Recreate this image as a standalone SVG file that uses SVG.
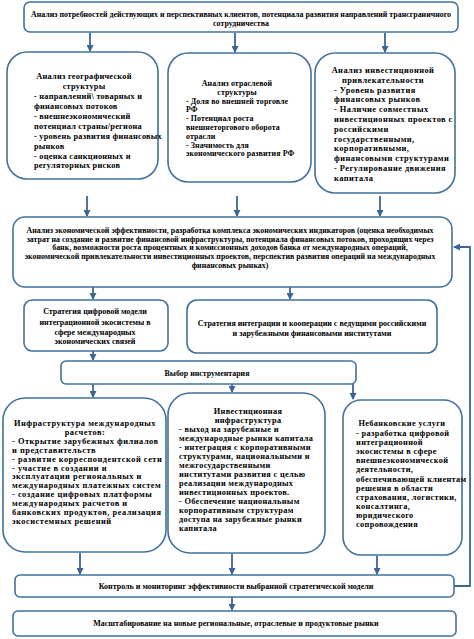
<svg xmlns="http://www.w3.org/2000/svg" width="474" height="639" viewBox="0 0 474 639">
<defs>
<style>
.box{fill:#fff;stroke:#41719c;stroke-width:1.6}
.t{font-family:"Liberation Serif","Times New Roman",serif;font-weight:bold;font-size:7.9px;fill:#000}
.c{text-anchor:middle}
.f80{font-size:8px}
.geo{font-size:8.3px;letter-spacing:0.25px}
.sec{font-size:7.9px;letter-spacing:0.1px}
.inv{font-size:8.4px;letter-spacing:0.45px}
.set{font-size:8.4px;letter-spacing:0.5px}
.inf{font-size:8.3px;letter-spacing:0.32px}
.nb{font-size:8.3px;letter-spacing:0.35px}
.con{fill:none;stroke:#3b6694;stroke-width:1.8}
</style>
<marker id="ah" markerUnits="userSpaceOnUse" markerWidth="7" markerHeight="7" refX="6" refY="3.5" orient="auto">
<path d="M0,0 L7,3.5 L0,7 Z" fill="#3b6694"/>
</marker>
</defs>
<rect width="474" height="639" fill="#fff"/>

<g id="connectors">
<line class="con" x1="90" y1="33" x2="90" y2="51" marker-end="url(#ah)"/>
<line class="con" x1="235" y1="33" x2="235" y2="52" marker-end="url(#ah)"/>
<line class="con" x1="385" y1="33" x2="385" y2="52" marker-end="url(#ah)"/>
<line class="con" x1="87" y1="196" x2="87" y2="216" marker-end="url(#ah)"/>
<line class="con" x1="237" y1="196" x2="237" y2="216" marker-end="url(#ah)"/>
<line class="con" x1="380" y1="196" x2="380" y2="216" marker-end="url(#ah)"/>
<line class="con" x1="93" y1="287" x2="93" y2="299" marker-end="url(#ah)"/>
<line class="con" x1="290" y1="287" x2="290" y2="299" marker-end="url(#ah)"/>
<line class="con" x1="93" y1="351" x2="93" y2="360" marker-end="url(#ah)"/>
<line class="con" x1="93" y1="384" x2="93" y2="397" marker-end="url(#ah)"/>
<line class="con" x1="232" y1="384" x2="232" y2="392" marker-end="url(#ah)"/>
<line class="con" x1="353" y1="384" x2="353" y2="399" marker-end="url(#ah)"/>
<line class="con" x1="80" y1="553" x2="80" y2="574" marker-end="url(#ah)"/>
<line class="con" x1="232" y1="554" x2="232" y2="574" marker-end="url(#ah)"/>
<line class="con" x1="377" y1="556" x2="377" y2="574" marker-end="url(#ah)"/>
<line class="con" x1="232" y1="597" x2="232" y2="610" marker-end="url(#ah)"/>
<polyline class="con" points="454,586 470,586 470,247 454,247" marker-end="url(#ah)"/>
</g>

<g id="n_top">
<rect class="box" x="24" y="2" width="434" height="30" rx="6"/>
<text class="t c" x="241" y="17">Анализ потребностей действующих и перспективных клиентов, потенциала развития направлений трансграничного</text>
<text class="t c" x="241" y="26">сотрудничества</text>
</g>

<g id="n_geo">
<rect class="box" x="7" y="52" width="151" height="127" rx="20"/>
<text class="t geo c" x="84" y="79">Анализ географической</text>
<text class="t geo c" x="84" y="89">структуры</text>
<text class="t geo" x="34" y="99">- направлений\ товарных и</text>
<text class="t geo" x="34" y="109">финансовых потоков</text>
<text class="t geo" x="34" y="119">- внешнеэкономический</text>
<text class="t geo" x="34" y="129">потенциал   страны/региона</text>
<text class="t geo" x="34" y="139">- уровень развития финансовых</text>
<text class="t geo" x="34" y="149">рынков</text>
<text class="t geo" x="34" y="159">- оценка санкционных и</text>
<text class="t geo" x="34" y="168">регуляторных рисков</text>
</g>

<g id="n_sector">
<rect class="box" x="168" y="53" width="143" height="129" rx="20"/>
<text class="t sec c" x="237" y="86">Анализ отраслевой</text>
<text class="t sec c" x="237" y="95">структуры</text>
<text class="t sec" x="186" y="103.6">- Доля во внешней торговле</text>
<text class="t sec" x="186" y="112.4">РФ</text>
<text class="t sec" x="186" y="121.2">- Потенциал роста</text>
<text class="t sec" x="186" y="130">внешнеторгового оборота</text>
<text class="t sec" x="186" y="138.8">отрасли</text>
<text class="t sec" x="186" y="147.6">- Значимость для</text>
<text class="t sec" x="186" y="156.4">экономического развития РФ</text>
</g>

<g id="n_invest">
<rect class="box" x="315" y="53" width="140" height="140" rx="20"/>
<text class="t inv c" x="383" y="73">Анализ инвестиционной</text>
<text class="t inv c" x="383" y="82.8">привлекательности</text>
<text class="t inv" x="334" y="92.6">- Уровень развития</text>
<text class="t inv" x="334" y="102.4">финансовых рынков</text>
<text class="t inv" x="334" y="112.2">- Наличие совместных</text>
<text class="t inv" x="334" y="122">инвестиционных проектов с</text>
<text class="t inv" x="334" y="131.8">российскими</text>
<text class="t inv" x="334" y="141.6">государственными,</text>
<text class="t inv" x="334" y="151.4">корпоративными,</text>
<text class="t inv" x="334" y="161.2">финансовыми структурами</text>
<text class="t inv" x="334" y="171">- Регулирование движения</text>
<text class="t inv" x="334" y="180.8">капитала</text>
</g>

<g id="n_econ">
<rect class="box" x="13" y="217" width="439" height="70" rx="12"/>
<text class="t c" x="230" y="233">Анализ экономической эффективности, разработка комплекса экономических индикаторов (оценка необходимых</text>
<text class="t c" x="230" y="241.7">затрат на создание и развитие финансовой инфраструктуры, потенциала финансовых потоков, проходящих через</text>
<text class="t c" x="230" y="250.4">банк, возможности роста процентных и комиссионных доходов банка от международных операций,</text>
<text class="t c" x="230" y="259.1">экономической привлекательности инвестиционных проектов, перспектив развития операций на международных</text>
<text class="t c" x="230" y="267.8">финансовых рынках)</text>
</g>

<g id="n_strat1">
<rect class="box" x="24" y="300" width="144" height="51" rx="8"/>
<text class="t f80 c" x="95" y="314">Стратегия цифровой модели</text>
<text class="t f80 c" x="95" y="324.5">интеграционной экосистемы в</text>
<text class="t f80 c" x="95" y="334.5">сфере международных</text>
<text class="t f80 c" x="95" y="344">экономических связей</text>
</g>

<g id="n_strat2">
<rect class="box" x="187" y="300" width="250" height="53" rx="10"/>
<text class="t f80 c" x="312" y="326">Стратегия интеграции и кооперации с ведущими российскими</text>
<text class="t f80 c" x="312" y="336">и зарубежными финансовыми институтами</text>
</g>

<g id="n_choice">
<rect class="box" x="61" y="361" width="295" height="23" rx="5"/>
<text class="t c" x="207" y="376">Выбор инструментария</text>
</g>

<g id="n_settle">
<rect class="box" x="3" y="398" width="163" height="154" rx="22"/>
<text class="t set c" x="85" y="426">Инфраструктура международных</text>
<text class="t set c" x="85" y="434.9">расчетов:</text>
<text class="t set" x="12" y="443.8">- Открытие зарубежных филиалов</text>
<text class="t set" x="12" y="452.7">и представительств</text>
<text class="t set" x="12" y="461.6">- развитие корреспондентской сети</text>
<text class="t set" x="12" y="470.5">- участие в создании и</text>
<text class="t set" x="12" y="479.4">эксплуатации региональных и</text>
<text class="t set" x="12" y="488.3">международных платежных систем</text>
<text class="t set" x="12" y="497.2">- создание цифровых платформы</text>
<text class="t set" x="12" y="506.1">международных расчетов и</text>
<text class="t set" x="12" y="515">банковских продуктов, реализация</text>
<text class="t set" x="12" y="523.9">экосистемных решений</text>
</g>

<g id="n_investinfra">
<rect class="box" x="168" y="393" width="157" height="160" rx="22"/>
<text class="t inf c" x="248" y="414">Инвестиционная</text>
<text class="t inf c" x="248" y="423">инфраструктура</text>
<text class="t inf" x="179" y="432">- выход на зарубежные и</text>
<text class="t inf" x="179" y="441">международные рынки капитала</text>
<text class="t inf" x="179" y="450">- интеграция с корпоративными</text>
<text class="t inf" x="179" y="459">структурами, национальными и</text>
<text class="t inf" x="179" y="468">межгосударственными</text>
<text class="t inf" x="179" y="477">институтами развития с целью</text>
<text class="t inf" x="179" y="486">реализации международных</text>
<text class="t inf" x="179" y="495">инвестиционных проектов.</text>
<text class="t inf" x="179" y="504">- Обеспечение национальным</text>
<text class="t inf" x="179" y="513">корпоративным структурам</text>
<text class="t inf" x="179" y="522">доступа на зарубежные рынки</text>
<text class="t inf" x="179" y="531">капитала</text>
</g>

<g id="n_nonbank">
<rect class="box" x="343" y="400" width="119" height="155" rx="18"/>
<text class="t nb c" x="402" y="426">Небанковские услуги</text>
<text class="t nb" x="356" y="436">- разработка цифровой</text>
<text class="t nb" x="356" y="445.1">интеграционной</text>
<text class="t nb" x="356" y="454.2">экосистемы в сфере</text>
<text class="t nb" x="356" y="463.3">внешнеэкономической</text>
<text class="t nb" x="356" y="472.4">деятельности,</text>
<text class="t nb" x="356" y="481.5">обеспечивающей клиентам</text>
<text class="t nb" x="356" y="490.6">решения в области</text>
<text class="t nb" x="356" y="499.7">страхования, логистики,</text>
<text class="t nb" x="356" y="508.8">консалтинга,</text>
<text class="t nb" x="356" y="517.9">юридического</text>
<text class="t nb" x="356" y="527">сопровождения</text>
</g>

<g id="n_control">
<rect class="box" x="15" y="575" width="439" height="22" rx="5"/>
<text class="t f80 c" x="236" y="589">Контроль и мониторинг эффективности выбранной стратегической модели</text>
</g>

<g id="n_scale">
<rect class="box" x="13" y="611" width="443" height="25" rx="5"/>
<text class="t f80 c" x="236" y="626">Масштабирование на новые региональные, отраслевые и продуктовые рынки</text>
</g>
</svg>
